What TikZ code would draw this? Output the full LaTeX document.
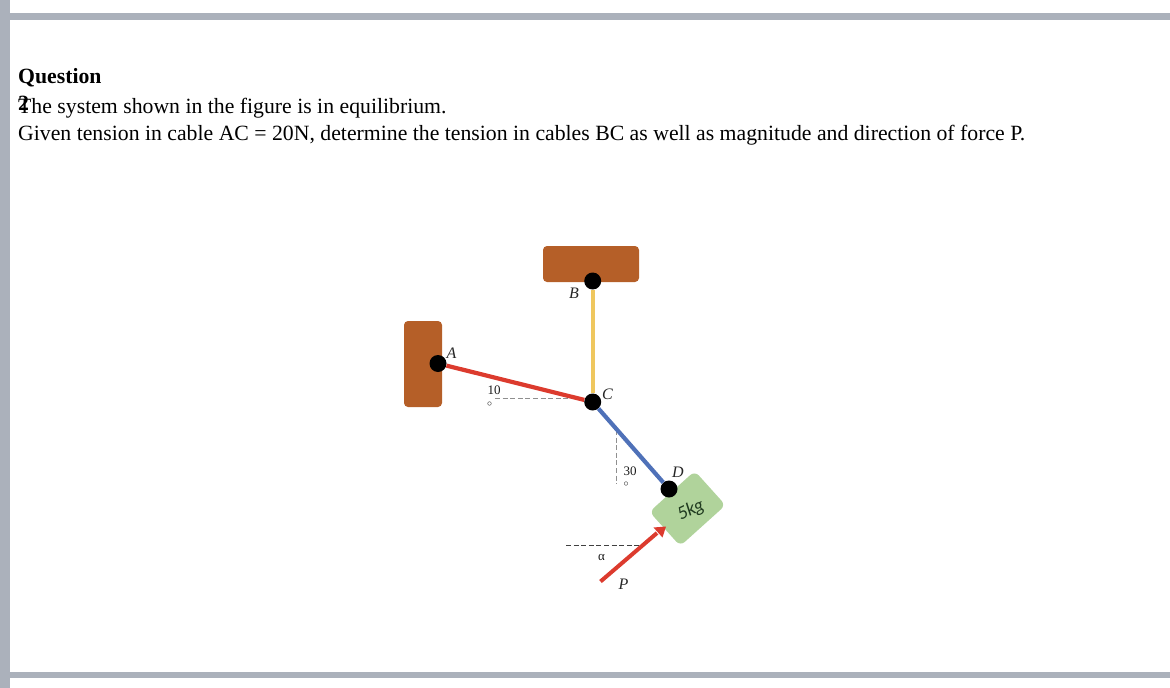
\documentclass[tikz,border=0pt]{standalone}
\usepackage{fontspec}
\setmainfont{Liberation Serif}
\newfontfamily\massfont{Carlito}
\definecolor{barc}{HTML}{ABB1BB}
\definecolor{wallc}{HTML}{B55F28}
\definecolor{redc}{HTML}{DC3B2E}
\definecolor{yelc}{HTML}{EFC75E}
\definecolor{bluec}{HTML}{4F71B8}
\definecolor{blockc}{HTML}{B0D39B}
\definecolor{dashc}{HTML}{8F8F8F}
\definecolor{massc}{HTML}{1F3A1F}
\tikzset{
  bar/.style={fill=barc,draw=none},
  wall/.style={fill=wallc,draw=none,rounded corners=4pt},
  pin/.style={circle,fill=black,inner sep=0pt,minimum size=17pt},
  cable/.style={line width=4.2pt},
  guide/.style={dash pattern=on 5pt off 2.6pt,line width=1.2pt,draw=dashc},
  txt/.style={inner sep=0pt,anchor=base west,font=\fontsize{21.75}{24}\selectfont},
  lab/.style={inner sep=0pt,font=\fontsize{16}{18}\selectfont\itshape,text=black!85},
  small/.style={inner sep=0pt,font=\fontsize{13}{14}\selectfont,text=black!90}
}
\begin{document}
\begin{tikzpicture}[x=1pt,y=-1pt]
\useasboundingbox (0,0) rectangle (1170,688);
\fill[bar] (0,0) rectangle (10,688);
\fill[bar] (10,13) rectangle (1170,19.5);
\fill[bar] (10,672) rectangle (1170,678);
\node[txt,font=\fontsize{21.75}{24}\selectfont\bfseries] (q1) at (18,83) {Question};
\node[txt,font=\fontsize{21.75}{24}\selectfont\bfseries] (q2) at (18,110) {2};
\node[txt] (l1) at (18,113) {The system shown in the figure is in equilibrium.};
\node[txt] (l2) at (18,140) {Given tension in cable AC = 20N, determine the tension in cables BC as well as magnitude and direction of force P.};
% walls
\fill[wall] (543,246) rectangle (639,282);
\fill[wall] (404,321) rectangle (442,407);
% block
\node[fill=blockc,rounded corners=6pt,minimum width=61pt,minimum height=46pt,rotate=42,inner sep=0pt] (blk) at (687.5,508.5) {};
\node[rotate=25,inner sep=0pt,text=massc,font=\fontsize{19}{20}\massfont\itshape] (m) at (691,510.5) {5kg};
% guides
\coordinate (g1a) at (495,398.5);
\coordinate (g1b) at (569,398.5);
\draw[guide] (g1a) -- (g1b);
\coordinate (g2a) at (616.5,430);
\coordinate (g2b) at (616.5,484);
\draw[guide] (g2a) -- (g2b);
\coordinate (g3a) at (566,545.5);
\coordinate (g3b) at (640,545.5);
\draw[dash pattern=on 5pt off 2.6pt,line width=1pt,draw=black!75] (g3a) -- (g3b);
% pin points
\node[pin] (A) at (438,363.5) {};
\node[pin] (B) at (592.7,281) {};
\node[pin] (C) at (592.7,402) {};
\node[pin] (D) at (669,489) {};
\draw[cable,draw=yelc] (B) -- (C);
\draw[cable,draw=redc] (A) -- (C);
\draw[cable,draw=bluec] (C) -- (D);
% force
\coordinate (P0) at (600.5,581.5);
\coordinate (P1) at (666,526.5);
\draw[draw=redc,line width=4pt] (P0) -- (657,533);
\fill[redc] (P1) -- (653.5,527.5) -- (662.5,537.5) -- cycle;
% labels
\node[lab] (la) at (451.5,353.5) {A};
\node[lab] (lb) at (574,293.5) {B};
\node[lab] (lc) at (607.5,394.5) {C};
\node[lab] (ld) at (678,472) {D};
\node[lab] (lp) at (623.5,584) {P};
\node[small] (n10) at (494,390.5) {10};
\node[small] (d10) at (489.5,404.5) {\fontsize{10}{10}\selectfont$\circ$};
\node[small] (n30) at (630,471.5) {30};
\node[small] (d30) at (626,484.5) {\fontsize{10}{10}\selectfont$\circ$};
\node[small] (al) at (601.5,557) {α};
\end{tikzpicture}
\end{document}
